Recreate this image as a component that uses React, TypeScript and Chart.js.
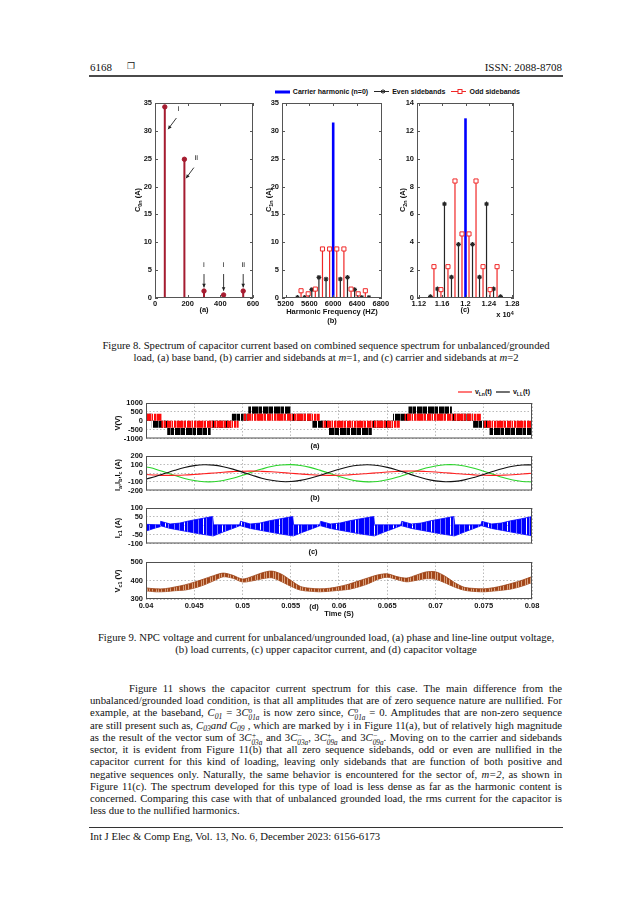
import React, { useEffect, useRef } from "react";
import { Chart, registerables } from "chart.js";

Chart.register(...registerables);

const SANS = "'Liberation Sans', Arial, Helvetica, sans-serif";
const SERIF = "'Liberation Serif', 'Times New Roman', Times, serif";

/* ================= Figure 8 data ================= */
const baseFreq = [60, 180, 300, 420, 540];
const baseAmp = [34.3, 24.9, 1.25, 0.55, 1.25];

const m1CarrierFreq = [6000];
const m1CarrierAmp = [31.5];
const m1OddFreq = [5460, 5580, 5700, 5820, 5940, 6060, 6180, 6300, 6420, 6540];
const m1OddAmp = [1.3, 0.75, 1.6, 8.8, 8.8, 8.8, 8.8, 1.6, 0.75, 1.3];
const m1EvenFreq = [5400, 5520, 5640, 5760, 5880, 6120, 6240, 6360, 6480, 6600];
const m1EvenAmp = [0.1, 0.1, 1.5, 3.7, 3.4, 3.4, 3.7, 1.5, 0.1, 0.1];

const m2CarrierFreq = [12000];
const m2CarrierAmp = [12.9];
const m2OddFreq = [11460, 11580, 11700, 11820, 11940, 12060, 12180, 12300, 12420, 12540];
const m2OddAmp = [2.25, 0.6, 2.25, 8.4, 4.6, 4.6, 8.4, 2.25, 0.6, 2.25];
const m2EvenFreq = [11400, 11520, 11640, 11760, 11880, 12120, 12240, 12360, 12480, 12600];
const m2EvenAmp = [0.1, 0.65, 6.75, 1.5, 3.85, 3.85, 1.5, 6.75, 0.65, 0.1];

const baseXTicks = [0, 200, 400, 600];
const ampYTicks = [0, 5, 10, 15, 20, 25, 30, 35];
const m1XTicks = [5200, 5600, 6000, 6400, 6800];
const m2XTicks = [11200, 11600, 12000, 12400, 12800];
const m2XTickLabels = ["1.12", "1.16", "1.2", "1.24", "1.28"];
const m2YTicks = [0, 2, 4, 6, 8, 10, 12, 14];

// arrow notes of Figure 8(a): label position and arrow, in data units
const baseNotes = [
  { label: "i", lx: 143, ly: 33.3, fx: 131, fy: 32.3, tx: 80, ty: 30.3 },
  { label: "ii", lx: 252, ly: 24.4, fx: 238, fy: 23.4, tx: 190, ty: 21.5 },
  { label: "i", lx: 300, ly: 5.2, fx: 300, fy: 4.3, tx: 300, ty: 1.9 },
  { label: "i", lx: 420, ly: 5.2, fx: 420, fy: 4.3, tx: 420, ty: 1.3 },
  { label: "ii", lx: 540, ly: 5.2, fx: 540, fy: 4.3, tx: 540, ty: 1.9 },
];

/* ================= Figure 9 data ================= */
const fig9XTicks = [0.04, 0.045, 0.05, 0.055, 0.06, 0.065, 0.07, 0.075, 0.08];
const fig9XTickLabels = ["0.04", "0.045", "0.05", "0.055", "0.06", "0.065", "0.07", "0.075", "0.08"];

// (a) PWM envelopes: segment boundaries (s) and band limits (V)
const vllTime = [0.04, 0.0406, 0.0422, 0.0467, 0.0489, 0.0506, 0.055, 0.0572, 0.0589, 0.0634, 0.0656, 0.0672, 0.0717, 0.0739, 0.0756, 0.08];
const vllLow = [0, -400, -800, -400, 0, 400, 0, -400, -800, -400, 0, 400, 0, -400, -800];
const vllHigh = [400, 0, -400, 0, 400, 800, 400, 0, -400, 0, 400, 800, 400, 0, -400];
const vlnTime = [0.04, 0.0416, 0.0496, 0.0501, 0.058, 0.0583, 0.0663, 0.0668, 0.0747, 0.075, 0.08];
const vlnLow = [0, -400, 0, 0, 0, -400, 0, 0, 0, -400];
const vlnHigh = [400, 0, 0, 400, 0, 0, 0, 400, 0, 0];
const vTicks = [-1000, -500, 0, 500, 1000];

// (b) load currents, sampled every 1 ms
const tLoad = [0.04, 0.041, 0.042, 0.043, 0.044, 0.045, 0.046, 0.047, 0.048, 0.049, 0.05, 0.051, 0.052, 0.053, 0.054, 0.055, 0.056, 0.057, 0.058, 0.059, 0.06, 0.061, 0.062, 0.063, 0.064, 0.065, 0.066, 0.067, 0.068, 0.069, 0.07, 0.071, 0.072, 0.073, 0.074, 0.075, 0.076, 0.077, 0.078, 0.079, 0.08];
const iaRed = [-15, -21, -25, -24, -21, -14, -6, 3, 12, 19, 24, 25, 22, 17, 9, 0, -9, -17, -23, -25, -24, -19, -12, -3, 6, 15, 21, 25, 25, 21, 15, 6, -3, -12, -19, -24, -25, -22, -17, -9, 0];
const ibBlack = [-68, -37, -1, 35, 66, 88, 98, 94, 76, 48, 13, -23, -57, -82, -96, -96, -83, -59, -26, 11, 46, 75, 93, 98, 89, 68, 38, 2, -35, -66, -88, -98, -94, -77, -49, -14, 23, 56, 82, 96, 97];
const icGreen = [76, 47, 11, -26, -60, -85, -98, -98, -84, -58, -24, 14, 49, 78, 95, 100, 90, 68, 36, -1, -38, -69, -91, -100, -95, -76, -47, -11, 26, 60, 85, 98, 98, 84, 58, 24, -13, -49, -78, -95, -100];
const iTicks = [-200, -100, 0, 100, 200];

// (c) upper capacitor current envelope
const icTime = [0.04, 0.041, 0.0415, 0.04151, 0.0425, 0.0435, 0.0445, 0.0455, 0.0469, 0.047, 0.048, 0.049, 0.0497, 0.0498, 0.0508, 0.0518, 0.0528, 0.0538, 0.0552, 0.0553, 0.0563, 0.0573, 0.058, 0.0581, 0.0591, 0.0601, 0.0611, 0.0621, 0.0636, 0.0637, 0.0647, 0.0657, 0.0664, 0.0665, 0.0675, 0.0685, 0.0695, 0.0705, 0.0719, 0.072, 0.073, 0.074, 0.0747, 0.0748, 0.0758, 0.0768, 0.0778, 0.0788, 0.08];
const icUpper = [8, 6, 5, 25, 10, 15, 28, 38, 52, 5, 5, 5, 5, 25, 10, 15, 28, 38, 52, 5, 5, 5, 5, 25, 10, 15, 28, 38, 52, 5, 5, 5, 5, 25, 10, 15, 28, 38, 52, 5, 5, 5, 5, 25, 10, 15, 28, 38, 52];
const icLower = [-30, -12, -5, 0, -15, -25, -35, -45, -57, -57, -35, -15, 0, 0, -15, -25, -35, -45, -57, -57, -35, -15, 0, 0, -15, -25, -35, -45, -57, -57, -35, -15, 0, 0, -15, -25, -35, -45, -57, -57, -35, -15, 0, 0, -15, -25, -35, -45, -57];
const icTicks = [-100, -50, 0, 50, 100];

// (d) capacitor voltage: band centre and half-width, every 1 ms
const vcMid = [352, 347, 348, 355, 362, 375, 392, 412, 430, 420, 400, 410, 425, 433, 415, 385, 358, 350, 347, 350, 357, 366, 381, 398, 418, 427, 413, 403, 415, 428, 427, 405, 376, 355, 349, 347, 352, 360, 371, 386, 405];
const vcSpread = [8, 8, 8, 10, 14, 16, 16, 14, 10, 8, 8, 12, 16, 18, 20, 16, 10, 8, 8, 8, 10, 14, 16, 16, 12, 9, 8, 10, 14, 18, 20, 18, 12, 8, 8, 8, 9, 12, 15, 16, 16];
const vcTicks = [300, 400, 500];

/* ================= helpers ================= */
type Cv = { l: number; t: number; w: number; h: number };
type Box = { x0: number; y0: number; x1: number; y1: number };

const tickFont = { family: SANS, size: 7.5, weight: "bold" as const };

function axis(o: {
  min: number; max: number; ticks: number[]; labels?: string[];
  size: number; horizontal: boolean; show: boolean; grid: boolean; pad: number;
}): any {
  return {
    type: "linear",
    min: o.min,
    max: o.max,
    afterBuildTicks: (s: any) => { s.ticks = o.ticks.map((v) => ({ value: v })); },
    afterFit: (s: any) => { if (o.horizontal) s.height = o.size; else s.width = o.size; },
    ticks: {
      display: o.show, autoSkip: false, maxRotation: 0, minRotation: 0, padding: o.pad,
      font: tickFont, color: "#141414",
      callback: (_v: any, i: number) => (o.labels ? o.labels[i] : String(o.ticks[i])),
    },
    grid: o.grid
      ? { display: true, drawTicks: false, color: "#9c9c9c", lineWidth: 0.7 }
      : { display: false, drawTicks: false },
    border: { display: false, dash: [1.5, 2] },
  };
}

function framePlugin(color: string, width: number, tick: number): any {
  return {
    id: "frame",
    afterDatasetsDraw(chart: any) {
      const { ctx, chartArea: a, scales } = chart;
      ctx.save();
      ctx.strokeStyle = color;
      ctx.lineWidth = width;
      ctx.strokeRect(a.left + 0.5, a.top + 0.5, a.right - a.left - 1, a.bottom - a.top - 1);
      if (tick > 0) {
        ctx.beginPath();
        scales.x.ticks.forEach((t: any) => {
          const p = Math.round(scales.x.getPixelForValue(t.value)) + 0.5;
          ctx.moveTo(p, a.bottom); ctx.lineTo(p, a.bottom - tick);
          ctx.moveTo(p, a.top); ctx.lineTo(p, a.top + tick);
        });
        scales.y.ticks.forEach((t: any) => {
          const p = Math.round(scales.y.getPixelForValue(t.value)) + 0.5;
          ctx.moveTo(a.left, p); ctx.lineTo(a.left + tick, p);
          ctx.moveTo(a.right, p); ctx.lineTo(a.right - tick, p);
        });
        ctx.stroke();
      }
      ctx.restore();
    },
  };
}

const notesPlugin: any = {
  id: "notes",
  afterDatasetsDraw(chart: any) {
    const { ctx, scales } = chart;
    const X = (v: number) => scales.x.getPixelForValue(v);
    const Y = (v: number) => scales.y.getPixelForValue(v);
    ctx.save();
    ctx.strokeStyle = "#222";
    ctx.fillStyle = "#222";
    ctx.lineWidth = 0.9;
    ctx.font = `8px ${SANS}`;
    ctx.textAlign = "center";
    ctx.textBaseline = "bottom";
    baseNotes.forEach((n) => {
      ctx.fillText(n.label, X(n.lx), Y(n.ly));
      const x0 = X(n.fx), y0 = Y(n.fy), x1 = X(n.tx), y1 = Y(n.ty);
      ctx.beginPath(); ctx.moveTo(x0, y0); ctx.lineTo(x1, y1); ctx.stroke();
      const ang = Math.atan2(y1 - y0, x1 - x0);
      const L = 3.6, W = 1.8;
      ctx.beginPath();
      ctx.moveTo(x1, y1);
      ctx.lineTo(x1 - L * Math.cos(ang) + W * Math.sin(ang), y1 - L * Math.sin(ang) - W * Math.cos(ang));
      ctx.lineTo(x1 - L * Math.cos(ang) - W * Math.sin(ang), y1 - L * Math.sin(ang) + W * Math.cos(ang));
      ctx.closePath(); ctx.fill();
    });
    ctx.restore();
  },
};

function stemSet(xs: number[], ys: number[], color: string, width: number): any {
  const data: any[] = [];
  xs.forEach((x, i) => { data.push({ x, y: 0 }, { x, y: ys[i] }, { x, y: null }); });
  return { data, borderColor: color, borderWidth: width, pointRadius: 0, spanGaps: false, fill: false, tension: 0 };
}
function tipSet(xs: number[], ys: number[], shape: string, r: number, stroke: string, fill: string, bw: number): any {
  return {
    data: xs.map((x, i) => ({ x, y: ys[i] })), showLine: false, pointStyle: shape,
    pointRadius: r, pointBorderColor: stroke, pointBackgroundColor: fill, pointBorderWidth: bw,
  };
}
function stepBand(times: number[], vals: number[]) {
  const pts: any[] = [];
  vals.forEach((v, i) => { pts.push({ x: times[i], y: v }, { x: times[i + 1], y: v }); });
  return pts;
}
function makePattern(main: string, light: string, spec: string): any {
  const cv = document.createElement("canvas");
  cv.width = spec.length; cv.height = 2;
  const g = cv.getContext("2d")!;
  for (let i = 0; i < spec.length; i++) {
    if (spec[i] === ".") continue;
    g.fillStyle = spec[i] === "m" ? main : light;
    g.fillRect(i, 0, 1, 2);
  }
  return g.createPattern(cv, "repeat");
}

function baseOptions(cv: Cv, box: Box, x: any, y: any): any {
  return {
    responsive: false,
    animation: false,
    devicePixelRatio: 1,
    events: [],
    layout: { padding: { left: 0, top: box.y0 - cv.t, right: cv.l + cv.w - box.x1, bottom: 0 } },
    plugins: { legend: { display: false }, tooltip: { enabled: false } },
    scales: { x, y },
  };
}

/* ---------- Figure 8 builders ---------- */
const C_BASE = "#a51c30";
const C_BLUE = "#0000ff";
const C_EVEN = "#262626";
const C_ODD = "#f02828";

function fig8a(cv: Cv, box: Box) {
  return () => ({
    type: "line",
    data: {
      datasets: [
        tipSet(baseFreq, baseAmp, "circle", 2.2, C_BASE, C_BASE, 1),
        stemSet(baseFreq, baseAmp, C_BASE, 2),
      ],
    },
    options: baseOptions(
      cv, box,
      axis({ min: 0, max: 600, ticks: baseXTicks, size: cv.t + cv.h - box.y1, horizontal: true, show: true, grid: false, pad: 1.5 }),
      axis({ min: 0, max: 35, ticks: ampYTicks, size: box.x0 - cv.l, horizontal: false, show: true, grid: false, pad: 3 })
    ),
    plugins: [framePlugin("#555", 1, 3), notesPlugin],
  });
}

function fig8side(cv: Cv, box: Box, xr: { min: number; max: number; ticks: number[]; labels?: string[] },
  yr: { max: number; ticks: number[] }, car: [number[], number[]], odd: [number[], number[]], even: [number[], number[]]) {
  return () => ({
    type: "line",
    data: {
      datasets: [
        tipSet(odd[0], odd[1], "rect", 2.9, C_ODD, "#ffffff", 1),
        tipSet(even[0], even[1], "star", 2.4, C_EVEN, C_EVEN, 1.1),
        stemSet(car[0], car[1], C_BLUE, 2.6),
        stemSet(odd[0], odd[1], C_ODD, 1.2),
        stemSet(even[0], even[1], C_EVEN, 1.2),
      ],
    },
    options: baseOptions(
      cv, box,
      axis({ min: xr.min, max: xr.max, ticks: xr.ticks, labels: xr.labels, size: cv.t + cv.h - box.y1, horizontal: true, show: true, grid: false, pad: 1.5 }),
      axis({ min: 0, max: yr.max, ticks: yr.ticks, size: box.x0 - cv.l, horizontal: false, show: true, grid: false, pad: 3 })
    ),
    plugins: [framePlugin("#555", 1, 3)],
  });
}

/* ---------- Figure 9 builders ---------- */
function fig9Opts(cv: Cv, box: Box, yMin: number, yMax: number, yTicks: number[], showX: boolean) {
  return baseOptions(
    cv, box,
    axis({ min: 0.04, max: 0.08, ticks: fig9XTicks, labels: fig9XTickLabels, size: cv.t + cv.h - box.y1, horizontal: true, show: showX, grid: true, pad: 2 }),
    axis({ min: yMin, max: yMax, ticks: yTicks, size: box.x0 - cv.l, horizontal: false, show: true, grid: true, pad: 3 })
  );
}
const bandStyle = (fill: any) => ({ borderWidth: 0, borderColor: "transparent", pointRadius: 0, tension: 0, fill: "+1", backgroundColor: fill });
const edgeStyle = { borderWidth: 0, borderColor: "transparent", pointRadius: 0, tension: 0, fill: false };

function fig9a(cv: Cv, box: Box) {
  return () => {
    const red = makePattern("#ff0a0a", "#ff8c8c", "mmmlmm.mmmmlm.mmlmmm");
    const blk = makePattern("#000000", "#6e6e6e", "mmmmlmmm.mmmmmlmmmm.mm");
    return {
      type: "line",
      data: {
        datasets: [
          { data: stepBand(vlnTime, vlnHigh), ...bandStyle(red) },
          { data: stepBand(vlnTime, vlnLow), ...edgeStyle },
          { data: stepBand(vllTime, vllHigh), ...bandStyle(blk) },
          { data: stepBand(vllTime, vllLow), ...edgeStyle },
        ],
      },
      options: fig9Opts(cv, box, -1000, 1000, vTicks, false),
      plugins: [framePlugin("#505050", 1, 0)],
    };
  };
}
function fig9b(cv: Cv, box: Box) {
  const pts = (v: number[]) => tLoad.map((t, i) => ({ x: t, y: v[i] }));
  const line = (c: string) => ({ borderColor: c, borderWidth: 1.1, pointRadius: 0, tension: 0.4, fill: false });
  return () => ({
    type: "line",
    data: {
      datasets: [
        { data: pts(ibBlack), ...line("#111111") },
        { data: pts(iaRed), ...line("#ff1e1e") },
        { data: pts(icGreen), ...line("#2ad42a") },
      ],
    },
    options: fig9Opts(cv, box, -200, 200, iTicks, false),
    plugins: [framePlugin("#505050", 1, 0)],
  });
}
function fig9c(cv: Cv, box: Box) {
  return () => {
    const blue = makePattern("#0000ff", "#7a7aff", "mmmlmmmm.mmlmmmmmlm");
    return {
      type: "line",
      data: {
        datasets: [
          { data: icTime.map((t, i) => ({ x: t, y: icUpper[i] })), ...bandStyle(blue), borderWidth: 0.8, borderColor: "#0000ff" },
          { data: icTime.map((t, i) => ({ x: t, y: icLower[i] })), ...edgeStyle, borderWidth: 0.8, borderColor: "#0000ff" },
        ],
      },
      options: fig9Opts(cv, box, -100, 100, icTicks, false),
      plugins: [framePlugin("#505050", 1, 0)],
    };
  };
}
function fig9d(cv: Cv, box: Box) {
  return () => {
    const brown = makePattern("#a3471a", "#d9a07c", "mmlmlmmlm");
    return {
      type: "line",
      data: {
        datasets: [
          { data: tLoad.map((t, i) => ({ x: t, y: vcMid[i] + vcSpread[i] })), ...bandStyle(brown), tension: 0.3, borderWidth: 0.8, borderColor: "#9a3f12" },
          { data: tLoad.map((t, i) => ({ x: t, y: vcMid[i] - vcSpread[i] })), ...edgeStyle, tension: 0.3, borderWidth: 0.8, borderColor: "#9a3f12" },
        ],
      },
      options: fig9Opts(cv, box, 300, 500, vcTicks, true),
      plugins: [framePlugin("#505050", 1, 0)],
    };
  };
}

/* ---------- React pieces ---------- */
function ChartBox({ cv, build }: { cv: Cv; build: () => any }) {
  const ref = useRef<HTMLCanvasElement>(null);
  useEffect(() => {
    const chart = new Chart(ref.current as HTMLCanvasElement, build());
    return () => chart.destroy();
  }, []);
  return (
    <canvas ref={ref} width={cv.w} height={cv.h}
      style={{ position: "absolute", left: cv.l, top: cv.t, width: cv.w, height: cv.h }} />
  );
}

const lab: React.CSSProperties = { fontFamily: SANS, fontWeight: "bold", fontSize: 7.5, color: "#111", whiteSpace: "nowrap", lineHeight: 1 };
const subS: React.CSSProperties = { fontSize: "0.72em", position: "relative", top: "0.3em" };
const supS: React.CSSProperties = { fontSize: "0.72em", position: "relative", top: "-0.45em" };

function At({ x, y, children, style }: { x: number; y: number; children: any; style?: React.CSSProperties }) {
  return <div style={{ position: "absolute", left: x, top: y, transform: "translate(-50%,-50%)", ...lab, ...style }}>{children}</div>;
}
function VTitle({ x, y, children }: { x: number; y: number; children: any }) {
  return <div style={{ position: "absolute", left: x, top: y, transform: "translate(-50%,-50%) rotate(-90deg)", ...lab }}>{children}</div>;
}

function Sym({ b, sub, sup }: { b: string; sub: string; sup?: string }) {
  if (!sup) return <span style={{ whiteSpace: "nowrap" }}><i>{b}</i><i style={subS}>{sub}</i></span>;
  return (
    <span style={{ whiteSpace: "nowrap" }}>
      <i>{b}</i>
      <span style={{ display: "inline-flex", flexDirection: "column", verticalAlign: "middle", fontSize: "0.68em", lineHeight: 0.95, fontStyle: "italic", position: "relative", top: "0.15em" }}>
        <span>{sup}</span><span>{sub}</span>
      </span>
    </span>
  );
}

const BODY_TOP = 682;
const LH = 12.24;
function Line({ i, last, indent, children }: { i: number; last?: boolean; indent?: boolean; children: any }) {
  return (
    <div style={{
      position: "absolute", left: 90, top: BODY_TOP + i * LH, width: 472, height: LH,
      fontFamily: SERIF, fontSize: 10.7, lineHeight: `${LH}px`, color: "#111",
      textAlign: last ? "left" : "justify", textAlignLast: last ? "left" : "justify",
      textIndent: indent ? 39 : 0,
    } as React.CSSProperties}>{children}</div>
  );
}
function Cap({ y, children }: { y: number; children: any }) {
  return (
    <div style={{ position: "absolute", left: 60, width: 532, top: y - 6.2, textAlign: "center", fontFamily: SERIF, fontSize: 10.7, lineHeight: "12.4px", color: "#111", whiteSpace: "nowrap" }}>{children}</div>
  );
}

/* ---------- layout ---------- */
const cv8a: Cv = { l: 118, t: 95, w: 147, h: 213 };
const bx8a: Box = { x0: 155, y0: 103, x1: 253, y1: 298 };
const cv8b: Cv = { l: 248, t: 95, w: 146, h: 213 };
const bx8b: Box = { x0: 282, y0: 103, x1: 382, y1: 298 };
const cv8c: Cv = { l: 383, t: 95, w: 145, h: 213 };
const bx8c: Box = { x0: 417, y0: 103, x1: 514, y1: 298 };

const cv9a: Cv = { l: 100, t: 395, w: 444, h: 51 };
const bx9a: Box = { x0: 146, y0: 403, x1: 532, y1: 442 };
const cv9b: Cv = { l: 100, t: 448, w: 444, h: 50 };
const bx9b: Box = { x0: 146, y0: 456, x1: 532, y1: 494 };
const cv9c: Cv = { l: 100, t: 500, w: 444, h: 51 };
const bx9c: Box = { x0: 146, y0: 508, x1: 532, y1: 547 };
const cv9d: Cv = { l: 100, t: 554, w: 444, h: 57 };
const bx9d: Box = { x0: 146, y0: 562, x1: 532, y1: 599 };

const legendItem: React.CSSProperties = { display: "flex", alignItems: "center", gap: 3 };

export default function App() {
  return (
    <div style={{ position: "absolute", left: 0, top: 0, width: 638, height: 902, background: "#fff", overflow: "hidden", color: "#111" }}>
      {/* running header */}
      <div style={{ position: "absolute", left: 90, top: 61, fontFamily: SERIF, fontSize: 11, lineHeight: "13px" }}>6168</div>
      <div style={{ position: "absolute", left: 127, top: 60, fontFamily: "'DejaVu Sans'", fontSize: 9, lineHeight: "13px" }}>❐</div>
      <div style={{ position: "absolute", right: 76, top: 61, fontFamily: SERIF, fontSize: 11, lineHeight: "13px" }}>ISSN: 2088-8708</div>
      <div style={{ position: "absolute", left: 89, top: 75, width: 474, height: 2, background: "#4a4a4a" }} />

      {/* Figure 8 legend */}
      <div style={{ position: "absolute", right: 118, top: 87, height: 9, display: "flex", alignItems: "center", gap: 6, ...lab, fontSize: 7 }}>
        <div style={legendItem}>
          <svg width="15" height="6"><rect x="0" y="1.5" width="15" height="3" fill={C_BLUE} /></svg>
          <span>Carrier harmonic (n=0)</span>
        </div>
        <div style={legendItem}>
          <svg width="15" height="7">
            <line x1="0" y1="3.5" x2="15" y2="3.5" stroke={C_EVEN} strokeWidth="1" />
            <path d="M9 1.2 L9 5.8 M7 2.3 L11 4.7 M7 4.7 L11 2.3" stroke={C_EVEN} strokeWidth="1" />
          </svg>
          <span>Even sidebands</span>
        </div>
        <div style={legendItem}>
          <svg width="15" height="7">
            <line x1="0" y1="3.5" x2="15" y2="3.5" stroke={C_ODD} strokeWidth="1" />
            <rect x="7" y="1.5" width="4" height="4" fill="#fff" stroke={C_ODD} strokeWidth="1" />
          </svg>
          <span>Odd sidebands</span>
        </div>
      </div>

      {/* Figure 8 charts */}
      <ChartBox cv={cv8a} build={fig8a(cv8a, bx8a)} />
      <ChartBox cv={cv8b} build={fig8side(cv8b, bx8b, { min: 5140, max: 6820, ticks: m1XTicks }, { max: 35, ticks: ampYTicks },
        [m1CarrierFreq, m1CarrierAmp], [m1OddFreq, m1OddAmp], [m1EvenFreq, m1EvenAmp])} />
      <ChartBox cv={cv8c} build={fig8side(cv8c, bx8c, { min: 11170, max: 12830, ticks: m2XTicks, labels: m2XTickLabels }, { max: 14, ticks: m2YTicks },
        [m2CarrierFreq, m2CarrierAmp], [m2OddFreq, m2OddAmp], [m2EvenFreq, m2EvenAmp])} />

      <VTitle x={138} y={200}>C<span style={subS}>0n</span> (A)</VTitle>
      <VTitle x={269} y={200}>C<span style={subS}>1n</span> (A)</VTitle>
      <VTitle x={403} y={200}>C<span style={subS}>2n</span> (A)</VTitle>
      <At x={204} y={310}>(a)</At>
      <At x={332} y={311.5}>Harmonic Frequency (HZ)</At>
      <At x={332} y={320.5}>(b)</At>
      <At x={465} y={310}>(c)</At>
      <At x={505} y={315}>x 10<span style={supS}>4</span></At>

      <Cap y={345}>Figure 8. Spectrum of capacitor current based on combined sequence spectrum for unbalanced/grounded</Cap>
      <Cap y={357.3}>load, (a) base band, (b) carrier and sidebands at <i>m</i>=1, and (c) carrier and sidebands at <i>m</i>=2</Cap>

      {/* Figure 9 legend */}
      <div style={{ position: "absolute", right: 108, top: 387, height: 10, display: "flex", alignItems: "center", gap: 4, ...lab, fontSize: 7 }}>
        <div style={legendItem}>
          <svg width="14" height="4"><line x1="0" y1="2" x2="14" y2="2" stroke="#ff1e1e" strokeWidth="1.2" /></svg>
          <span>v<span style={subS}>Ln</span>(t)</span>
        </div>
        <div style={legendItem}>
          <svg width="14" height="4"><line x1="0" y1="2" x2="14" y2="2" stroke="#111" strokeWidth="1.2" /></svg>
          <span>v<span style={subS}>LL</span>(t)</span>
        </div>
      </div>

      {/* Figure 9 charts */}
      <ChartBox cv={cv9a} build={fig9a(cv9a, bx9a)} />
      <ChartBox cv={cv9b} build={fig9b(cv9b, bx9b)} />
      <ChartBox cv={cv9c} build={fig9c(cv9c, bx9c)} />
      <ChartBox cv={cv9d} build={fig9d(cv9d, bx9d)} />

      <VTitle x={118} y={423}>V(V)</VTitle>
      <VTitle x={118} y={475}>I<span style={subS}>a</span>,I<span style={subS}>b</span>,I<span style={subS}>c</span> (A)</VTitle>
      <VTitle x={118} y={528}>I<span style={subS}>c1</span> (A)</VTitle>
      <VTitle x={118} y={581}>V<span style={subS}>c1</span> (V)</VTitle>
      <At x={315} y={446}>(a)</At>
      <At x={315} y={498}>(b)</At>
      <At x={313} y={552}>(c)</At>
      <At x={314} y={607}>(d)</At>
      <At x={339} y={613.5}>Time (S)</At>

      <Cap y={636.7}>Figure 9. NPC voltage and current for unbalanced/ungrounded load, (a) phase and line-line output voltage,</Cap>
      <Cap y={649.5}>(b) load currents, (c) upper capacitor current, and (d) capacitor voltage</Cap>

      {/* body text */}
      <Line i={0} indent>Figure 11 shows the capacitor current spectrum for this case. The main difference from the</Line>
      <Line i={1}>unbalanced/grounded load condition, is that all amplitudes that are of zero sequence nature are nullified. For</Line>
      <Line i={2}>example, at the baseband, <Sym b="C" sub="01" /> = 3<Sym b="C" sub="01a" sup="o" /> is now zero since, <Sym b="C" sub="01a" sup="o" /> = 0. Amplitudes that are non-zero sequence</Line>
      <Line i={3}>are still present such as, <Sym b="C" sub="03" /><i>and</i> <Sym b="C" sub="09" /> , which are marked by i in Figure 11(a), but of relatively high magnitude</Line>
      <Line i={4}>as the result of the vector sum of 3<Sym b="C" sub="03a" sup="+" /> and 3<Sym b="C" sub="03a" sup="−" />, 3<Sym b="C" sub="09a" sup="+" /> and 3<Sym b="C" sub="09a" sup="−" />. Moving on to the carrier and sidebands</Line>
      <Line i={5}>sector, it is evident from Figure 11(b) that all zero sequence sidebands, odd or even are nullified in the</Line>
      <Line i={6}>capacitor current for this kind of loading, leaving only sidebands that are function of both positive and</Line>
      <Line i={7}>negative sequences only. Naturally, the same behavior is encountered for the sector of, <i>m=2</i>, as shown in</Line>
      <Line i={8}>Figure 11(c). The spectrum developed for this type of load is less dense as far as the harmonic content is</Line>
      <Line i={9}>concerned. Comparing this case with that of unbalanced grounded load, the rms current for the capacitor is</Line>
      <Line i={10} last>less due to the nullified harmonics.</Line>

      {/* running footer */}
      <div style={{ position: "absolute", left: 89, top: 826.5, width: 474, height: 1.5, background: "#333" }} />
      <div style={{ position: "absolute", left: 90, top: 830, fontFamily: SERIF, fontSize: 10.7, lineHeight: "13px" }}>Int J Elec &amp; Comp Eng, Vol. 13, No. 6, December 2023: 6156-6173</div>
    </div>
  );
}
